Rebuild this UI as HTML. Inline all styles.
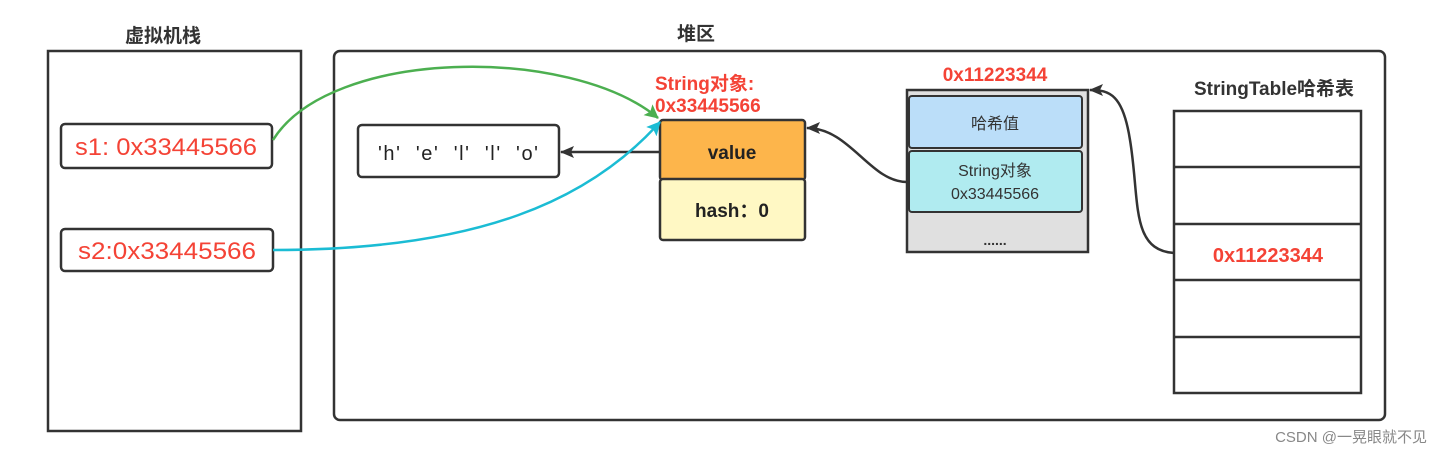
<!DOCTYPE html>
<html><head><meta charset="utf-8"><style>
body{margin:0;background:#fff}
svg{display:block;font-family:"Liberation Sans","Noto Sans CJK SC",sans-serif}
</style></head><body>
<svg width="1443" height="454" viewBox="0 0 1443 454">
<defs>
<marker id="ab" markerWidth="14" markerHeight="12" refX="13" refY="6" orient="auto" markerUnits="userSpaceOnUse"><path d="M0,0 L14,6 L0,12 L3,6z" fill="#333"/></marker>
<marker id="ag" markerWidth="14" markerHeight="14" refX="13" refY="7" orient="auto" markerUnits="userSpaceOnUse"><path d="M0,0 L14,7 L0,14 L3,7z" fill="#4CAF50"/></marker>
<marker id="ac" markerWidth="14" markerHeight="14" refX="13" refY="7" orient="auto" markerUnits="userSpaceOnUse"><path d="M0,0 L14,7 L0,14 L3,7z" fill="#1BBCD4"/></marker>
</defs>
<text x="163" y="42" text-anchor="middle" font-size="19" font-weight="bold" fill="#333">虚拟机栈</text>
<text x="696" y="40" text-anchor="middle" font-size="19" font-weight="bold" fill="#333">堆区</text>
<rect x="48" y="51" width="253" height="380" fill="#fff" stroke="#333" stroke-width="2.5"/>
<rect x="334" y="51" width="1051" height="369" rx="6" fill="#fff" stroke="#333" stroke-width="2.5"/>
<rect x="61" y="124" width="211" height="44" rx="4" fill="#fff" stroke="#333" stroke-width="2.5"/>
<text x="166" y="155" text-anchor="middle" font-size="24" fill="#F44336" textLength="182" lengthAdjust="spacingAndGlyphs">s1: 0x33445566</text>
<rect x="61" y="229" width="212" height="42" rx="4" fill="#fff" stroke="#333" stroke-width="2.5"/>
<text x="167" y="259" text-anchor="middle" font-size="24" fill="#F44336" textLength="178" lengthAdjust="spacingAndGlyphs">s2:0x33445566</text>
<rect x="358" y="125" width="201" height="52" rx="4" fill="#fff" stroke="#333" stroke-width="2.5"/>
<text x="458" y="160" text-anchor="middle" font-size="20" fill="#222" xml:space="preserve" textLength="160" lengthAdjust="spacing">'h'  'e'  'l'  'l'  'o'</text>
<text x="655" y="90" font-size="19" font-weight="bold" fill="#F44336">String对象:</text>
<text x="655" y="112" font-size="19" font-weight="bold" fill="#F44336">0x33445566</text>
<rect x="660" y="120" width="145" height="60" rx="3" fill="#FDB54B" stroke="#333" stroke-width="2.5"/>
<text x="732" y="159" text-anchor="middle" font-size="19" font-weight="bold" fill="#222">value</text>
<rect x="660" y="179" width="145" height="61" rx="3" fill="#FFF8C4" stroke="#333" stroke-width="2.5"/>
<text x="732" y="217" text-anchor="middle" font-size="19" font-weight="bold" fill="#222">hash：0</text>
<line x1="660" y1="152" x2="561" y2="152" stroke="#333" stroke-width="2.5" marker-end="url(#ab)"/>
<text x="995" y="81" text-anchor="middle" font-size="19" font-weight="bold" fill="#F44336">0x11223344</text>
<rect x="907" y="90" width="181" height="162" fill="#E0E0E0" stroke="#333" stroke-width="2.5"/>
<rect x="909" y="96" width="173" height="52" rx="3" fill="#BBDEF9" stroke="#333" stroke-width="2"/>
<text x="995" y="129" text-anchor="middle" font-size="16" fill="#333">哈希值</text>
<rect x="909" y="151" width="173" height="61" rx="3" fill="#B0EBF0" stroke="#333" stroke-width="2"/>
<text x="995" y="176" text-anchor="middle" font-size="16" fill="#333">String对象</text>
<text x="995" y="199" text-anchor="middle" font-size="16" fill="#333">0x33445566</text>
<text x="995" y="245" text-anchor="middle" font-size="14" font-weight="bold" fill="#333">......</text>
<path d="M907,182 C870,182 850,128 807,128" fill="none" stroke="#333" stroke-width="2.5" marker-end="url(#ab)"/>
<text x="1274" y="95" text-anchor="middle" font-size="19" font-weight="bold" fill="#333">StringTable哈希表</text>
<rect x="1174" y="111" width="187" height="282" fill="#fff" stroke="#333" stroke-width="2.5"/>
<g stroke="#333" stroke-width="2.5">
<line x1="1174" y1="167" x2="1361" y2="167"/><line x1="1174" y1="224" x2="1361" y2="224"/>
<line x1="1174" y1="280" x2="1361" y2="280"/><line x1="1174" y1="337" x2="1361" y2="337"/></g>
<text x="1268" y="262" text-anchor="middle" font-size="20" font-weight="bold" fill="#F44336">0x11223344</text>
<path d="M1174,253 C1130,250 1140,200 1130,140 C1123,95 1110,90 1090,90" fill="none" stroke="#333" stroke-width="2.5" marker-end="url(#ab)"/>
<path d="M273,140 C330,48 570,45 658,118" fill="none" stroke="#4CAF50" stroke-width="2.5" marker-end="url(#ag)"/>
<path d="M273,250 C480,250 590,200 660,122" fill="none" stroke="#1BBCD4" stroke-width="2.5" marker-end="url(#ac)"/>
<text x="1427" y="442" text-anchor="end" font-size="15" fill="#888">CSDN @一晃眼就不见</text>
</svg>
</body></html>
